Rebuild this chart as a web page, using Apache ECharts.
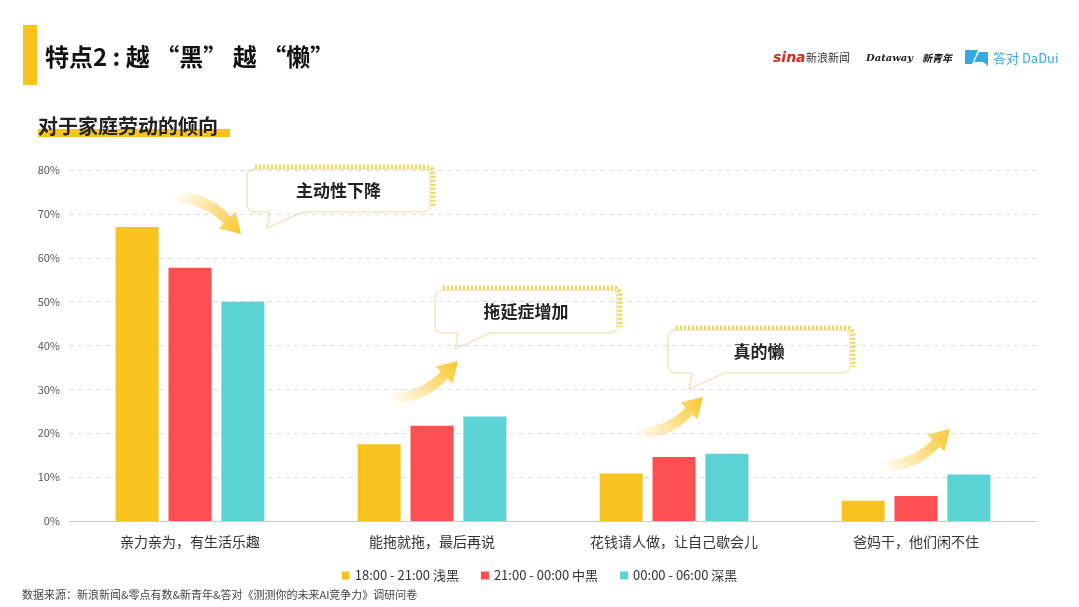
<!DOCTYPE html>
<html>
<head>
<meta charset="utf-8">
<script src="https://cdn.jsdelivr.net/npm/echarts@6/dist/echarts.min.js"></script>
<style>
  html, body { margin: 0; padding: 0; background: #fff; }
  #chart { width: 1079px; height: 607px; }
</style>
</head>
<body>
<div id="chart"></div>
<script>
// data
const categories = ['亲力亲为，有生活乐趣', '能拖就拖，最后再说', '花钱请人做，让自己歇会儿', '爸妈干，他们闲不住'];
const seriesNames = ['18:00 - 21:00 浅黑', '21:00 - 00:00 中黑', '00:00 - 06:00 深黑'];
const earlyValues = [67, 17.5, 10.8, 4.6];
const midValues = [57.7, 21.7, 14.6, 5.7];
const deepValues = [50, 23.8, 15.3, 10.6];
const colors = ['#F9C31F', '#FE4F51', '#5BD2D3'];

const font = '"Noto Sans CJK SC", "Noto Sans", sans-serif';

const chart = echarts.init(document.getElementById('chart'));

// sample a quadratic curve into points (for the decorations only)
const quad = (p0, c, p1, n = 12) => {
  const pts = [];
  for (let i = 0; i <= n; i++) {
    const t = i / n;
    const a = (1 - t) * (1 - t), b = 2 * (1 - t) * t, d = t * t;
    pts.push([a * p0[0] + b * c[0] + d * p1[0], a * p0[1] + b * c[1] + d * p1[1]]);
  }
  return pts;
};

// curved arrow, tip at top-right, centred on 0,0
const arrowPoints = [
  ...quad([0, 32], [30, 30], [48.5, 10.5]),
  [43.5, 5.5], [66, 0], [60.5, 22.5],
  ...quad([55.5, 17.5], [34, 42], [0, 42]),
].map(p => [p[0] - 33, p[1] - 21]);

const arrowFill = new echarts.graphic.LinearGradient(0, 1, 1, 0, [
  { offset: 0, color: 'rgba(249,195,31,0)' },
  { offset: 1, color: 'rgba(249,195,31,0.95)' },
]);

const makeArrow = (x, y, flip) => ({
  type: 'polygon',
  x: x,
  y: y,
  scaleY: flip ? -1 : 1,
  shape: { points: arrowPoints },
  style: { fill: arrowFill },
});

const makeBubble = (x, y, w, h, tail, label) => {
  const r = 8;
  const [t1, tx, ty, t2] = tail;
  const pts = [
    ...quad([x + w - r, y], [x + w, y], [x + w, y + r], 4),
    ...quad([x + w, y + h - r], [x + w, y + h], [x + w - r, y + h], 4),
    [t2, y + h], [tx, ty], [t1, y + h],
    ...quad([x + r, y + h], [x, y + h], [x, y + h - r], 4),
    ...quad([x, y + r], [x, y], [x + r, y], 4),
  ];
  const hatch = [
    [x + 8, y - 2],
    ...quad([x + w - 4, y - 2], [x + w + 3, y - 2], [x + w + 3, y + 5], 4),
    [x + w + 3, y + h - 6],
  ];
  return [
    {
      type: 'polyline',
      shape: { points: hatch },
      style: { stroke: '#F5D54E', lineWidth: 5, lineDash: [2, 2], fill: 'none' },
    },
    {
      type: 'polygon',
      shape: { points: pts },
      style: { fill: '#fff', stroke: '#E6DC9A', lineWidth: 1 },
    },
    {
      type: 'text',
      x: x + w / 2,
      y: y + h / 2,
      style: {
        text: label, fontSize: 17, fontWeight: 'bold', fill: '#222', fontFamily: font,
        align: 'center', verticalAlign: 'middle',
      },
    },
  ];
};

const option = {
  backgroundColor: '#fff',
  textStyle: { fontFamily: font },
  grid: { left: 69, right: 42, top: 170, bottom: 86 },
  legend: {
    data: seriesNames,
    left: 'center',
    top: 564,
    icon: 'rect',
    itemWidth: 8,
    itemHeight: 8,
    itemGap: 22,
    textStyle: { fontSize: 13, color: '#333', fontFamily: font },
  },
  xAxis: {
    type: 'category',
    data: categories,
    axisLine: { lineStyle: { color: '#ccc' } },
    axisTick: { show: false },
    axisLabel: { fontSize: 14, color: '#333', margin: 14 },
  },
  yAxis: {
    type: 'value',
    min: 0,
    max: 80,
    interval: 10,
    axisLine: { show: false },
    axisTick: { show: false },
    axisLabel: { formatter: '{value}%', fontSize: 11, color: '#555', margin: 9 },
    splitLine: { lineStyle: { color: '#ddd', type: [5, 4] } },
  },
  series: [
    { name: seriesNames[0], type: 'bar', data: earlyValues, barWidth: 43, barGap: '23%', itemStyle: { color: colors[0] } },
    { name: seriesNames[1], type: 'bar', data: midValues, barWidth: 43, barGap: '23%', itemStyle: { color: colors[1] } },
    { name: seriesNames[2], type: 'bar', data: deepValues, barWidth: 43, barGap: '23%', itemStyle: { color: colors[2] } },
  ],
  graphic: [
    // header
    { type: 'rect', shape: { x: 23, y: 25, width: 14, height: 60 }, style: { fill: '#F9C31F' } },
    {
      type: 'text', x: 45, y: 57,
      style: { text: '特点2 : 越 “黑” 越 “懒”', fontSize: 24, fontWeight: 'bold', fill: '#111', fontFamily: font, verticalAlign: 'middle' },
    },
    { type: 'rect', shape: { x: 38, y: 129, width: 192, height: 8 }, style: { fill: '#F9C31F' } },
    {
      type: 'text', x: 38, y: 126,
      style: { text: '对于家庭劳动的倾向', fontSize: 20, fontWeight: 'bold', fill: '#222', fontFamily: font, verticalAlign: 'middle' },
    },
    // logos
    {
      type: 'text', x: 773, y: 58,
      style: { text: 'sina', fontSize: 14, fontWeight: 'bold', fontStyle: 'italic', fill: '#D52B1E', fontFamily: 'DejaVu Sans', verticalAlign: 'middle' },
    },
    {
      type: 'text', x: 806, y: 58,
      style: { text: '新浪新闻', fontSize: 11, fill: '#333', fontFamily: font, verticalAlign: 'middle' },
    },
    {
      type: 'text', x: 866, y: 58,
      style: { text: 'Dataway', fontSize: 10, fontWeight: 'bold', fontStyle: 'italic', fill: '#222', fontFamily: 'DejaVu Serif', verticalAlign: 'middle' },
    },
    {
      type: 'text', x: 922, y: 58,
      style: { text: '新青年', fontSize: 10, fontWeight: 'bold', fontStyle: 'italic', fill: '#111', fontFamily: font, verticalAlign: 'middle' },
    },
    { type: 'polygon', shape: { points: [[965, 50], [978, 50], [972, 64], [965, 64]] }, style: { fill: '#3AA8E0' } },
    { type: 'polygon', shape: { points: [[979, 52], [988, 52], [988, 66], [983, 62], [974, 62]] }, style: { fill: '#3AA8E0' } },
    {
      type: 'text', x: 993, y: 58,
      style: { text: '答对 DaDui', fontSize: 13, fill: '#3AA8E0', fontFamily: font, verticalAlign: 'middle' },
    },
    // callouts
    ...makeBubble(247, 169, 183, 43, [270, 267, 228, 303], '主动性下降'),
    ...makeBubble(435, 290, 182, 43, [458, 455, 349, 490], '拖延症增加'),
    ...makeBubble(668, 330, 182, 43, [692, 689, 389, 725], '真的懒'),
    makeArrow(208, 213, true),
    makeArrow(425, 382, false),
    makeArrow(670, 418, false),
    makeArrow(917, 450, false),
    // source
    {
      type: 'text', x: 22, y: 595,
      style: { text: '数据来源：新浪新闻&零点有数&新青年&答对《测测你的未来AI竞争力》调研问卷', fontSize: 11, fill: '#444', fontFamily: font, verticalAlign: 'middle' },
    },
  ],
};

chart.setOption(option);
</script>
</body>
</html>
